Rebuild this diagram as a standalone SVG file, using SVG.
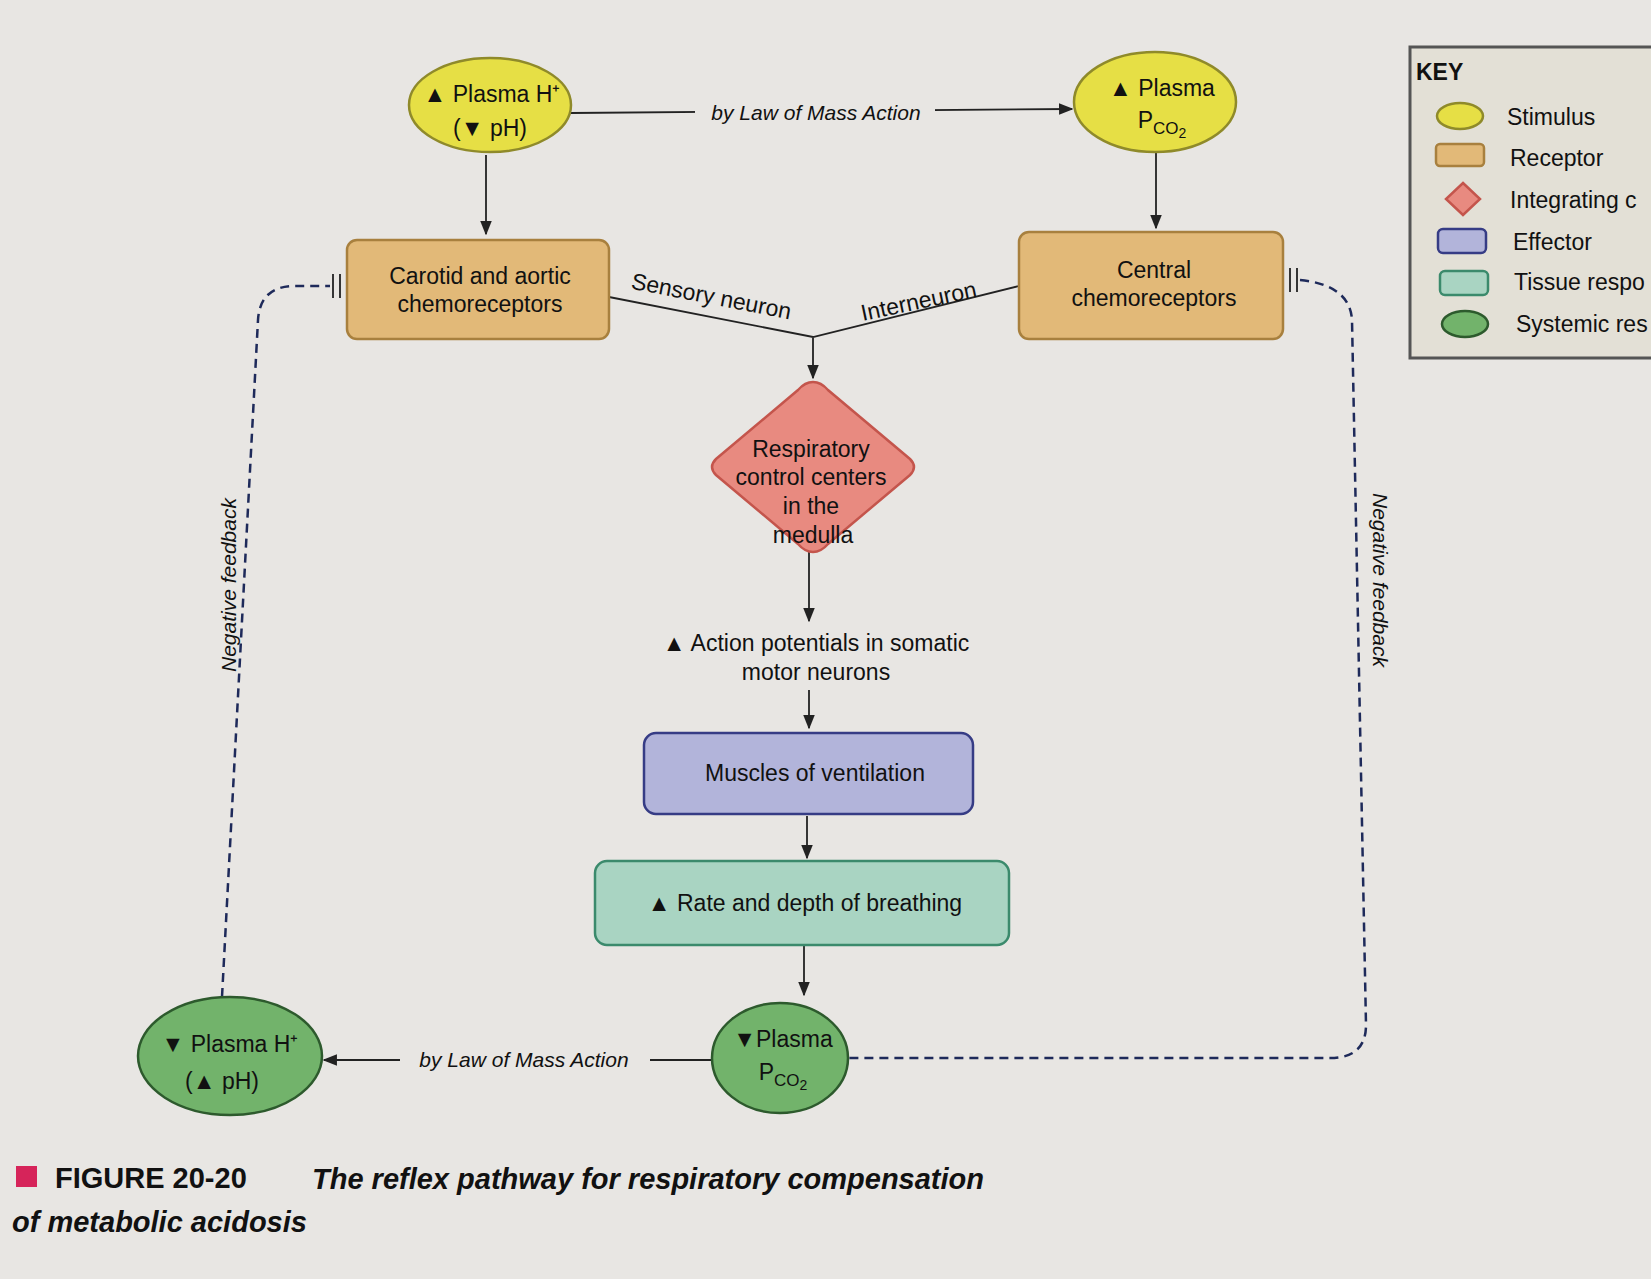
<svg xmlns="http://www.w3.org/2000/svg" width="1651" height="1279" viewBox="0 0 1651 1279">
<defs>
<marker id="ah" viewBox="0 0 10 10" refX="9" refY="5" markerWidth="8" markerHeight="8" orient="auto-start-reverse"><path d="M0,1 L10,5 L0,9 z" fill="#222"/></marker>
<style>
text{font-family:"Liberation Sans",Arial,sans-serif;fill:#111;font-size:23px}
.c{text-anchor:middle}
.it{font-style:italic;font-size:21px}
.sub{font-size:17px}
.sub2{font-size:14px}
.cap{font-size:29px;font-weight:bold}
.ln{stroke:#222;stroke-width:1.8;fill:none}
.dash{stroke:#1e2a5a;stroke-width:2.5;fill:none;stroke-dasharray:9,6}
.stim{fill:#e6df45;stroke:#8f8a2a;stroke-width:2.5}
.rec{fill:#e2b978;stroke:#a8803e;stroke-width:2.5}
.int{fill:#e88a80;stroke:#c4554c;stroke-width:2.5}
.eff{fill:#b2b4da;stroke:#363c85;stroke-width:2.5}
.tis{fill:#a9d4c2;stroke:#3b8a6c;stroke-width:2.5}
.sys{fill:#72b36b;stroke:#2d5a2d;stroke-width:2.5}
</style>
</defs>
<rect width="1651" height="1279" fill="#e8e6e3"/>
<g id="connectors">
<path class="ln" d="M571,113 L1072,109" marker-end="url(#ah)"/>
<rect x="695" y="99" width="240" height="26" fill="#e8e6e3"/>
<path class="ln" d="M486,155 L486,234" marker-end="url(#ah)"/>
<path class="ln" d="M1156,153 L1156,228" marker-end="url(#ah)"/>
<path class="ln" d="M609,297 L813,337 L1019,286 M813,337 L813,378" marker-end="url(#ah)"/>
<path class="ln" d="M809,552 L809,621" marker-end="url(#ah)"/>
<path class="ln" d="M809,690 L809,728" marker-end="url(#ah)"/>
<path class="ln" d="M807,816 L807,858" marker-end="url(#ah)"/>
<path class="ln" d="M804,946 L804,995" marker-end="url(#ah)"/>
<path class="ln" d="M712,1060 L324,1060" marker-end="url(#ah)"/>
<rect x="400" y="1047" width="250" height="26" fill="#e8e6e3"/>
<path class="dash" d="M222,997 L258,320 Q260,286 295,286 L330,286"/>
<path class="ln" d="M333,274 L333,298 M340,274 L340,298" stroke-width="2.5"/>
<path class="dash" d="M1300,280 Q1350,285 1352,320 L1366,1025 Q1366,1058 1330,1058 L848,1058"/>
<path class="ln" d="M1290,268 L1290,292 M1297,268 L1297,292" stroke-width="2.5"/>
<text class="it c" x="816" y="120">by Law of Mass Action</text>
<text class="it c" x="524" y="1067">by Law of Mass Action</text>
<text class="c" x="711" y="304" transform="rotate(11 711 298)">Sensory neuron</text>
<text class="c" x="919" y="309" transform="rotate(-12 919 303)">Interneuron</text>
<text class="it c" x="229" y="592" transform="rotate(-90 229 585)">Negative feedback</text>
<text class="it c" x="1380" y="587" transform="rotate(90 1380 580)">Negative feedback</text>
</g>
<g id="n1"><ellipse class="stim" cx="490" cy="105" rx="81" ry="47"/><text class="c" x="492" y="102">▲ Plasma H⁺</text><text class="c" x="490" y="136">(▼ pH)</text></g>
<g id="n2"><ellipse class="stim" cx="1155" cy="102" rx="81" ry="50"/><text class="c" x="1162" y="96">▲ Plasma</text><text class="c" x="1162" y="128">P<tspan class="sub" dy="6">CO</tspan><tspan class="sub2" dy="4">2</tspan></text></g>
<g id="n3"><rect class="rec" x="347" y="240" width="262" height="99" rx="10"/><text class="c" x="480" y="284">Carotid and aortic</text><text class="c" x="480" y="312">chemoreceptors</text></g>
<g id="n4"><rect class="rec" x="1019" y="232" width="264" height="107" rx="10"/><text class="c" x="1154" y="278">Central</text><text class="c" x="1154" y="306">chemoreceptors</text></g>
<g id="n5"><path class="int" d="M813,382 Q821,382 828,390 L910,459 Q918,467 910,475 L828,544 Q821,552 813,552 Q805,552 798,544 L716,475 Q708,467 716,459 L798,390 Q805,382 813,382 z"/><text class="c" x="811" y="457">Respiratory</text><text class="c" x="811" y="485">control centers</text><text class="c" x="811" y="514">in the</text><text class="c" x="813" y="543">medulla</text></g>
<g id="n6"><text class="c" x="816" y="651">▲ Action potentials in somatic</text><text class="c" x="816" y="680">motor neurons</text></g>
<g id="n7"><rect class="eff" x="644" y="733" width="329" height="81" rx="12"/><text class="c" x="815" y="781">Muscles of ventilation</text></g>
<g id="n8"><rect class="tis" x="595" y="861" width="414" height="84" rx="12"/><text class="c" x="805" y="911">▲ Rate and depth of breathing</text></g>
<g id="n9"><ellipse class="sys" cx="780" cy="1058" rx="68" ry="55"/><text class="c" x="783" y="1047">▼Plasma</text><text class="c" x="783" y="1080">P<tspan class="sub" dy="6">CO</tspan><tspan class="sub2" dy="4">2</tspan></text></g>
<g id="n10"><ellipse class="sys" cx="230" cy="1056" rx="92" ry="59"/><text class="c" x="230" y="1052">▼ Plasma H⁺</text><text class="c" x="222" y="1089">(▲ pH)</text></g>
<g id="key">
<rect x="1410" y="47" width="250" height="311" fill="#e3e0d6" stroke="#555" stroke-width="3"/>
<text x="1416" y="80" font-weight="bold">KEY</text>
<ellipse class="stim" cx="1460" cy="116" rx="23" ry="13"/><text x="1507" y="125">Stimulus</text>
<rect class="rec" x="1436" y="144" width="48" height="22" rx="4"/><text x="1510" y="166">Receptor</text>
<path class="int" d="M1463,183 L1480,199 L1463,215 L1446,199 z"/><text x="1510" y="208">Integrating c</text>
<rect class="eff" x="1438" y="229" width="48" height="24" rx="5"/><text x="1513" y="250">Effector</text>
<rect class="tis" x="1440" y="271" width="48" height="24" rx="5"/><text x="1514" y="290">Tissue respo</text>
<ellipse class="sys" cx="1465" cy="324" rx="23" ry="13"/><text x="1516" y="332">Systemic res</text>
</g>
<g id="caption">
<rect x="16" y="1166" width="21" height="21" fill="#d6245a"/>
<text class="cap" x="55" y="1188">FIGURE 20-20</text>
<text class="cap" x="312" y="1189" font-style="italic">The reflex pathway for respiratory compensation</text>
<text class="cap" x="12" y="1232" font-style="italic">of metabolic acidosis</text>
</g>
</svg>
